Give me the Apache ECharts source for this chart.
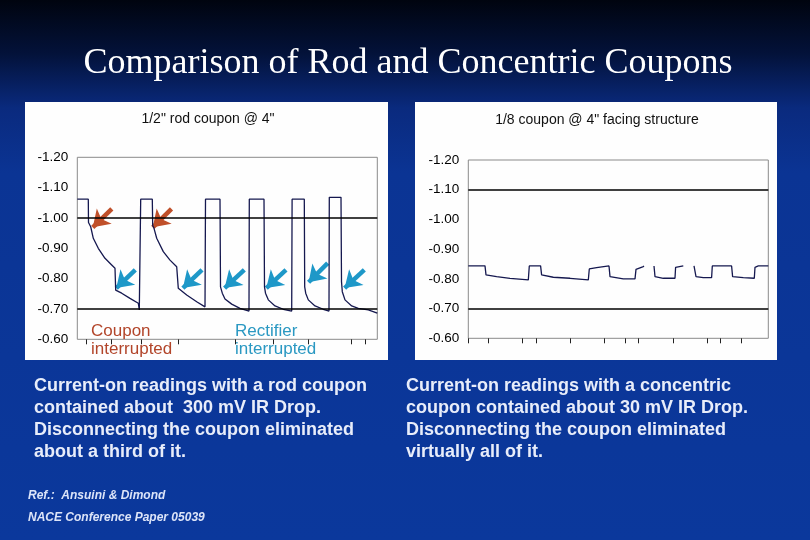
<!DOCTYPE html>
<html>
<head>
<meta charset="utf-8">
<script src="https://cdn.jsdelivr.net/npm/echarts@6/dist/echarts.min.js"></script>
<style>
  html, body { margin: 0; padding: 0; background: #0b3597; }
  #main { width: 810px; height: 540px; }
</style>
</head>
<body>
<div id="main"></div>
<script>
// time runs 0..300 (arbitrary units across the plot), values in volts
const rodData = [
  [0, -1.062], [11, -1.062], [11.2, -0.985], [13.4, -0.971], [16, -0.933], [21, -0.900], [27.7, -0.867],
  [34.4, -0.845], [37.7, -0.834], [38.4, -0.762], [44.4, -0.752], [52.7, -0.735], [61, -0.719],
  [62, -0.697], [63.2, -0.695], [63.4, -1.062],
  [75, -1.062], [75.4, -0.975], [76.5, -0.968], [79.4, -0.933], [86, -0.889], [92.7, -0.861],
  [99.4, -0.839], [100.6, -0.835], [101, -0.768], [109.4, -0.746], [119.4, -0.724], [127.7, -0.707],
  [128.2, -1.062],
  [142.7, -1.062], [143.2, -0.773], [145, -0.752], [147.7, -0.733], [154.4, -0.716], [162.7, -0.702],
  [171.7, -0.693], [172, -1.062],
  [186.7, -1.062], [187.2, -0.773], [188.2, -0.752], [191, -0.730], [197.7, -0.710], [206, -0.699],
  [214.4, -0.693], [214.8, -1.062],
  [227, -1.062], [227.4, -0.773], [228.4, -0.752], [231, -0.730], [237.7, -0.710], [246, -0.699],
  [251.7, -0.693], [252, -1.068],
  [263.7, -1.068], [264.2, -0.790], [265, -0.757], [267.7, -0.730], [274.4, -0.710], [281, -0.702],
  [291, -0.697], [300, -0.686]
];

const concentricData = [
  [0, -0.8435], [16.7, -0.8435], [17.7, -0.8132], [28.3, -0.8075], [41.7, -0.802], [60, -0.7964],
  [61, -0.8435], [72.3, -0.8435], [73.3, -0.8132], [85, -0.8054], [101.7, -0.802], [120, -0.7964],
  [121, -0.8334], [128.3, -0.838], [130, -0.8435], [140.7, -0.8435], [141.7, -0.8075], [155, -0.800],
  [166.7, -0.800], [167.7, -0.832], [175, -0.8415], [175.7, -0.8435], [180, '-'],
  [185.7, -0.8435], [186.7, -0.8075], [195, -0.802], [206.7, -0.802], [207.3, -0.839], [215, -0.8435],
  [220, '-'],
  [225.7, -0.8435], [227.7, -0.8075], [235, -0.804], [243.3, -0.804], [244, -0.8435], [263.3, -0.8435],
  [264.3, -0.8075], [275, -0.804], [286, -0.802], [286.7, -0.839], [290, -0.8435], [300, -0.8435]
];

const rodTicks = [8.7, 33.7, 64.4, 101, 158.4, 196, 230.7, 273.7, 287.7];
const concentricTicks = [0, 20, 54.3, 68.3, 102.3, 136, 157.3, 170.3, 205, 239.3, 252, 273.3];

const rodRefLines = [-1.00, -0.70];
const concentricRefLines = [-1.10, -0.70];

// arrows: [tail, head]
const couponArrows = [
  [[34.5, -1.030], [15.5, -0.969]],
  [[94.2, -1.030], [75.5, -0.969]]
];
const rectifierArrows = [
  [[58, -0.829], [39, -0.769]],
  [[124.7, -0.829], [105.6, -0.769]],
  [[167, -0.829], [147.3, -0.769]],
  [[208.7, -0.829], [189, -0.769]],
  [[250.4, -0.851], [231.3, -0.788]],
  [[287, -0.829], [267.3, -0.769]]
];

const slideTitle = 'Comparison of Rod and Concentric Coupons';
const rodTitle = '1/2" rod coupon @ 4"';
const concentricTitle = '1/8 coupon @ 4" facing structure';
const rodNotes = [
  'Current-on readings with a rod coupon',
  'contained about  300 mV IR Drop.',
  'Disconnecting the coupon eliminated',
  'about a third of it.'
];
const concentricNotes = [
  'Current-on readings with a concentric',
  'coupon contained about 30 mV IR Drop.',
  'Disconnecting the coupon eliminated',
  'virtually all of it.'
];
const refLines = ['Ref.:  Ansuini & Dimond', 'NACE Conference Paper 05039'];

const chart = echarts.init(document.getElementById('main'));

function yAxisFor (gridIndex) {
  return {
    gridIndex: gridIndex,
    type: 'value',
    inverse: true,
    min: -1.2,
    max: -0.6,
    interval: 0.1,
    axisLine: { show: false },
    axisTick: { show: false },
    splitLine: { show: false },
    axisLabel: {
      margin: 9,
      color: '#000',
      fontSize: 13.5,
      fontFamily: 'Liberation Sans, Arial',
      formatter: v => v.toFixed(2)
    }
  };
}

function xAxisFor (gridIndex, ticks) {
  return {
    gridIndex: gridIndex,
    type: 'value',
    min: 0,
    max: 300,
    axisLine: { show: false },
    splitLine: { show: false },
    axisLabel: { show: false },
    axisTick: {
      show: true,
      length: 5,
      customValues: ticks,
      lineStyle: { color: '#222', width: 1 }
    }
  };
}

function refMarkLine (values) {
  return {
    silent: true,
    symbol: 'none',
    label: { show: false },
    lineStyle: { color: '#000', width: 1.5, type: 'solid' },
    data: values.map(v => ({ yAxis: v }))
  };
}

function arrowSeries (arrows, color) {
  return {
    type: 'lines',
    coordinateSystem: 'cartesian2d',
    xAxisIndex: 0,
    yAxisIndex: 0,
    silent: true,
    symbol: ['none', 'arrow'],
    symbolSize: 16,
    lineStyle: { color: color, width: 4.5, opacity: 1, curveness: 0 },
    data: arrows.map(a => ({ coords: a }))
  };
}

function textBlock (lines, x, y, lineGap, style) {
  return lines.map((t, i) => ({
    type: 'text',
    left: x,
    top: y + i * lineGap,
    silent: true,
    style: Object.assign({ text: t }, style)
  }));
}

const noteStyle = {
  fill: '#e8edfa',
  font: 'bold 18px "Liberation Sans", Arial, sans-serif'
};

chart.setOption({
  backgroundColor: {
    type: 'linear', x: 0, y: 0, x2: 0, y2: 1,
    colorStops: [
      { offset: 0, color: '#00040f' },
      { offset: 0.1, color: '#03123a' },
      { offset: 0.2, color: '#0a2a7e' },
      { offset: 0.32, color: '#0b3494' },
      { offset: 1, color: '#0b389c' }
    ]
  },
  animation: false,
  graphic: [
    { type: 'rect', shape: { x: 25, y: 102, width: 363, height: 258 }, style: { fill: '#fefefe' }, z: -10, silent: true },
    { type: 'rect', shape: { x: 415, y: 102, width: 362, height: 258 }, style: { fill: '#fefefe' }, z: -10, silent: true },
    {
      type: 'text', x: 408, y: 64, silent: true,
      style: { text: slideTitle, fill: '#fff', font: '36px "Liberation Serif", "Times New Roman", serif', align: 'center', verticalAlign: 'middle' }
    },
    {
      type: 'text', x: 208, y: 119, silent: true,
      style: { text: rodTitle, fill: '#111', font: '14px "Liberation Sans", Arial, sans-serif', align: 'center', verticalAlign: 'middle' }
    },
    {
      type: 'text', x: 597, y: 120, silent: true,
      style: { text: concentricTitle, fill: '#111', font: '14px "Liberation Sans", Arial, sans-serif', align: 'center', verticalAlign: 'middle' }
    },
    {
      type: 'text', x: 91, y: 331, silent: true, z: 10,
      style: { text: 'Coupon', fill: '#b2452a', font: '17px "Liberation Sans", Arial, sans-serif', verticalAlign: 'middle' }
    },
    {
      type: 'text', x: 91, y: 349, silent: true, z: 10,
      style: { text: 'interrupted', fill: '#b2452a', font: '17px "Liberation Sans", Arial, sans-serif', verticalAlign: 'middle' }
    },
    {
      type: 'text', x: 235, y: 331, silent: true, z: 10,
      style: { text: 'Rectifier', fill: '#2a98c2', font: '17px "Liberation Sans", Arial, sans-serif', verticalAlign: 'middle' }
    },
    {
      type: 'text', x: 235, y: 349, silent: true, z: 10,
      style: { text: 'interrupted', fill: '#2a98c2', font: '17px "Liberation Sans", Arial, sans-serif', verticalAlign: 'middle' }
    },
    ...textBlock(rodNotes, 34, 377, 21.9, noteStyle),
    ...textBlock(concentricNotes, 406, 377, 21.9, noteStyle),
    ...textBlock(refLines, 28, 490, 22, { fill: '#dce4f8', font: 'italic bold 12px "Liberation Sans", Arial, sans-serif' })
  ],
  grid: [
    { left: 77.3, top: 157.3, width: 300, height: 182, show: true, borderColor: '#8a8a8a', borderWidth: 1, backgroundColor: 'transparent' },
    { left: 468.3, top: 160, width: 300, height: 178.3, show: true, borderColor: '#8a8a8a', borderWidth: 1, backgroundColor: 'transparent' }
  ],
  xAxis: [xAxisFor(0, rodTicks), xAxisFor(1, concentricTicks)],
  yAxis: [yAxisFor(0), yAxisFor(1)],
  series: [
    {
      name: 'Rod coupon',
      type: 'line',
      xAxisIndex: 0,
      yAxisIndex: 0,
      data: rodData,
      showSymbol: false,
      lineStyle: { color: '#15184f', width: 1.3 },
      markLine: refMarkLine(rodRefLines)
    },
    {
      name: 'Concentric coupon',
      type: 'line',
      xAxisIndex: 1,
      yAxisIndex: 1,
      data: concentricData,
      showSymbol: false,
      connectNulls: false,
      lineStyle: { color: '#15184f', width: 1.3 },
      markLine: refMarkLine(concentricRefLines)
    },
    arrowSeries(couponArrows, '#c0502a'),
    arrowSeries(rectifierArrows, '#1e98c8')
  ]
});
</script>
</body>
</html>
